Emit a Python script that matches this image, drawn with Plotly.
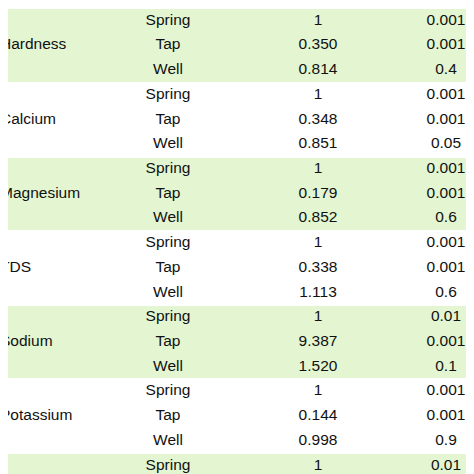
import plotly.graph_objects as go

parameters = ["Hardness", "Calcium", "Magnesium", "TDS", "Sodium", "Potassium", "Chloride"]
sources = ["Spring", "Tap", "Well"]
ratios = [
    ["1", "0.350", "0.814"],
    ["1", "0.348", "0.851"],
    ["1", "0.179", "0.852"],
    ["1", "0.338", "1.113"],
    ["1", "9.387", "1.520"],
    ["1", "0.144", "0.998"],
    ["1"],
]
p_values = [
    ["0.001", "0.001", "0.4"],
    ["0.001", "0.001", "0.05"],
    ["0.001", "0.001", "0.6"],
    ["0.001", "0.001", "0.6"],
    ["0.01", "0.001", "0.1"],
    ["0.001", "0.001", "0.9"],
    ["0.01"],
]

GREEN = "#e3f6d1"
FONT = dict(family="Liberation Sans, Arial", size=15.5, color="#111111")

fig = go.Figure()

# green bands on every other parameter group
for g, name in enumerate(parameters):
    if g % 2 == 0:
        start = g * 3
        fig.add_trace(go.Bar(
            x=[520], y=[start + 1], base=-20, orientation="h", width=2.92,
            marker=dict(color=GREEN, line_width=0), hoverinfo="skip", showlegend=False))

rows_y, src_txt, ratio_txt, p_txt = [], [], [], []
for g in range(len(parameters)):
    for k, r in enumerate(ratios[g]):
        rows_y.append(g * 3 + k)
        src_txt.append(sources[k])
        ratio_txt.append(r)
        p_txt.append(p_values[g][k])

label_y = [g * 3 + 1 for g in range(len(parameters))]
label_y[-1] = len(parameters) * 3 - 2 + 0.2

fig.add_trace(go.Scatter(x=[0] * len(parameters), y=label_y, text=parameters, mode="text",
                         textposition="middle right", textfont=FONT, showlegend=False))
fig.add_trace(go.Scatter(x=[168] * len(rows_y), y=rows_y, text=src_txt, mode="text",
                         textfont=FONT, showlegend=False))
fig.add_trace(go.Scatter(x=[318] * len(rows_y), y=rows_y, text=ratio_txt, mode="text",
                         textfont=FONT, showlegend=False))
fig.add_trace(go.Scatter(x=[446] * len(rows_y), y=rows_y, text=p_txt, mode="text",
                         textfont=FONT, showlegend=False))

fig.update_layout(
    width=474, height=474, margin=dict(l=0, r=0, t=0, b=0),
    plot_bgcolor="white", paper_bgcolor="white", bargap=0,
    xaxis=dict(range=[8, 482], visible=False, fixedrange=True),
    yaxis=dict(range=[18.66, -0.52], visible=False, fixedrange=True),
)
fig.write_html("out.html")
